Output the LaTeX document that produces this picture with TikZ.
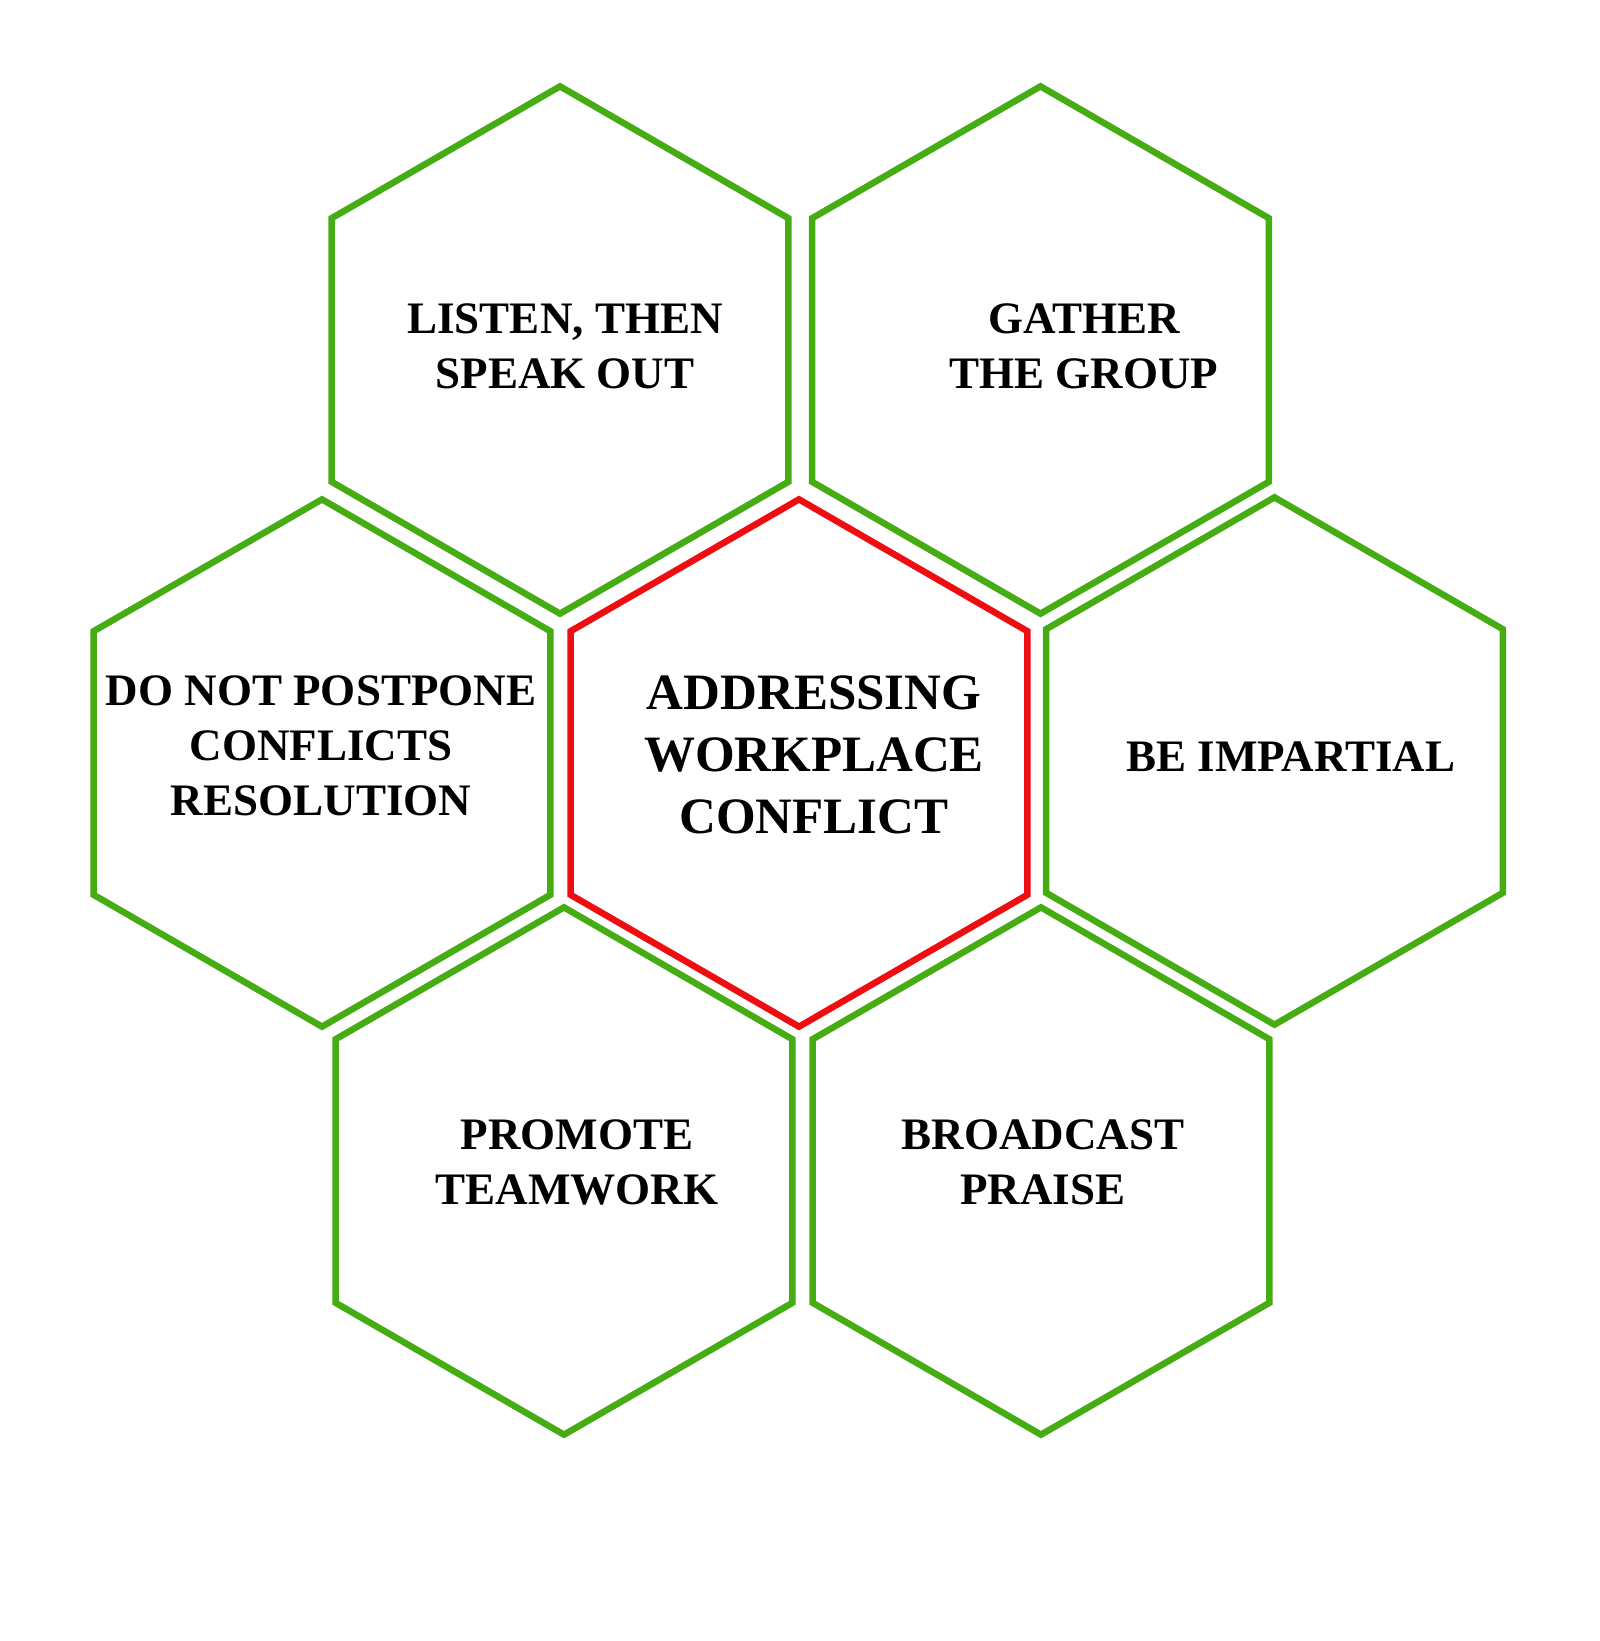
\documentclass[tikz,border=0pt]{standalone}
\usepackage{xcolor}
\usepackage{tikz}
\usepackage{fontspec}
\setmainfont{Liberation Serif}
\usetikzlibrary{shapes.geometric, positioning}
\definecolor{hexgreen}{RGB}{70,172,20}
\definecolor{hexred}{RGB}{238,14,18}
\tikzstyle{hexagon} = [regular polygon, regular polygon sides=6, shape border rotate=30, minimum size=5.27cm, inner sep=0pt, outer sep=0pt, draw=hexgreen, line width=0.065cm]
\tikzstyle{hexlabel} = [align=center, inner sep=0pt, font=\fontsize{12.8}{15.65}\selectfont\bfseries]
\tikzstyle{corelabel} = [align=center, inner sep=0pt, font=\fontsize{14.5}{17.7}\selectfont\bfseries]

\begin{document}
\begin{tikzpicture}[x=0.01cm, y=-0.01cm]
            \useasboundingbox (0,0) rectangle (1600,1641);
            \node[hexagon, draw=hexred] (core) at (799,763) {};
            \node[hexagon] (listen) at (560,350) {};
            \node[hexagon] (gather) at (1040.5,350) {};
            \node[hexagon] (postpone) at (322,763) {};
            \node[hexagon] (impartial) at (1274.5,761) {};
            \node[hexagon] (teamwork) at (564,1171) {};
            \node[hexagon] (praise) at (1041,1171) {};

            \node[corelabel] (coretxt) at (814,755) {ADDRESSING\\WORKPLACE\\CONFLICT};
            \node[hexlabel] (listentxt) at (565,346) {LISTEN, THEN\\SPEAK OUT};
            \node[hexlabel] (gathertxt) at (1084,346) {GATHER\\THE GROUP};
            \node[hexlabel] (postponetxt) at (321,746) {DO NOT POSTPONE\\CONFLICTS\\RESOLUTION};
            \node[hexlabel] (impartialtxt) at (1291,757) {BE IMPARTIAL};
            \node[hexlabel] (teamworktxt) at (577,1162) {PROMOTE\\TEAMWORK};
            \node[hexlabel] (praisetxt) at (1043,1162) {BROADCAST\\PRAISE};
        \end{tikzpicture}
\end{document}
